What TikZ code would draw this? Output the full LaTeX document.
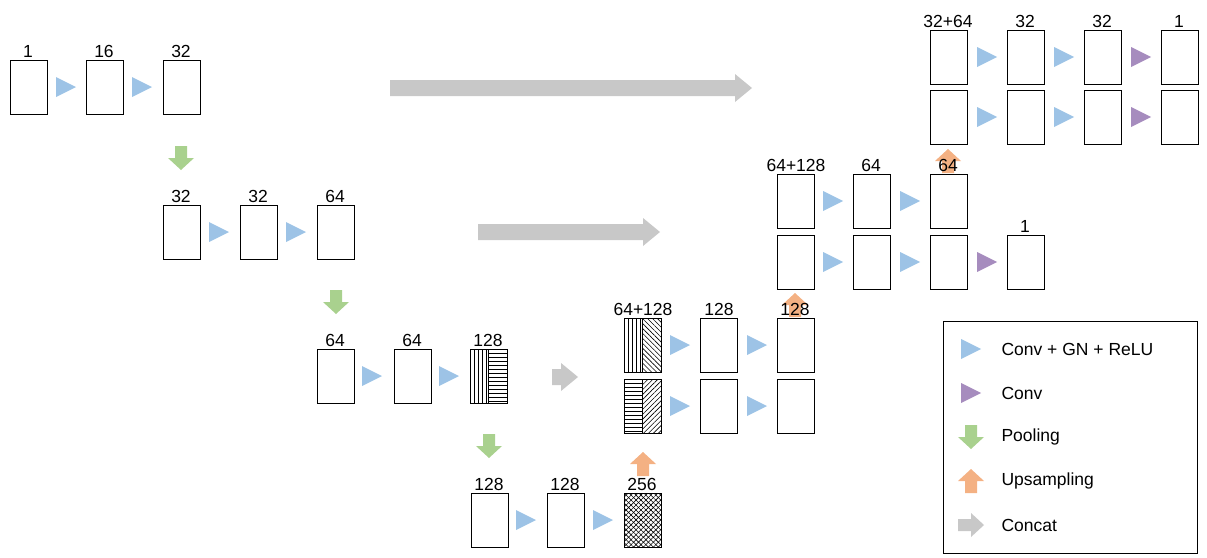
\documentclass[tikz,border=0pt]{standalone}
\usepackage{fontspec}
\setmainfont{Liberation Sans}
\usetikzlibrary{patterns.meta}
\definecolor{cb}{RGB}{157,195,230}
\definecolor{cp}{RGB}{166,140,190}
\definecolor{cg}{RGB}{169,209,142}
\definecolor{co}{RGB}{244,177,131}
\definecolor{cgr}{RGB}{200,200,200}
\begin{document}
\begin{tikzpicture}[x=1pt,y=-1pt,
  box/.style={draw,line width=0.7pt,minimum width=37pt,minimum height=54pt,inner sep=0,anchor=north west},
  lab/.style={font=\fontsize{17.5}{17.5}\selectfont,anchor=base},
  tri/.pic={\fill[#1] (-10,-10) -- (10,0) -- (-10,10) -- cycle;},
  pool/.pic={\fill[cg] (-6,-12) -- (6,-12) -- (6,0) -- (13,0) -- (0,12) -- (-13,0) -- (-6,0) -- cycle;},
  up/.pic={\fill[co] (-6,12) -- (6,12) -- (6,0) -- (13,0) -- (0,-12) -- (-13,0) -- (-6,0) -- cycle;},
  NW/.style={pattern={Lines[angle=-45,distance=3.5pt,line width=0.6pt]}},
  NE/.style={pattern={Lines[angle=45,distance=3.5pt,line width=0.6pt]}},
  lt/.style={font=\fontsize{17.5}{17.5}\selectfont,anchor=west}]
\useasboundingbox (0,0) rectangle (1207,557);
\newcommand\concatarrow[3]{\fill[cgr] (#1,#3-8) -- (#2-17,#3-8) -- (#2-17,#3-14) -- (#2,#3) -- (#2-17,#3+14) -- (#2-17,#3+8) -- (#1,#3+8) -- cycle;}
\newcommand\vlines[3]{\foreach \k in {4,8,12,16}{\draw[line width=0.6pt] (#1+\k,#2) -- (#1+\k,#3);}}
\newcommand\hlines[3]{\foreach \k in {4,8,...,52}{\draw[line width=0.6pt] (#1,#3+\k) -- (#2,#3+\k);}}
% arrows first
\pic at (181,158) {pool};
\pic at (336,302) {pool};
\pic at (489,446) {pool};
\pic at (643,464) {up};
\pic at (795,305) {up};
\pic at (948,161) {up};
\concatarrow{552}{578}{377}
\concatarrow{478}{660}{232}
\concatarrow{390}{752}{88}
% row 1
\node[box] (a1) at (10,60) {}; \node[box] (a2) at (86,60) {}; \node[box] (a3) at (163,60) {};
\node[lab] at (28,57) {1}; \node[lab] at (104,57) {16}; \node[lab] at (181,57) {32};
\pic at (66,87) {tri=cb}; \pic at (142,87) {tri=cb};
% row 2
\node[box] (b1) at (163,205) {}; \node[box] (b2) at (240,205) {}; \node[box] (b3) at (317,205) {};
\node[lab] at (181,202) {32}; \node[lab] at (258,202) {32}; \node[lab] at (335,202) {64};
\pic at (219,232) {tri=cb}; \pic at (296,232) {tri=cb};
% row 3
\node[box] (c1) at (317,349) {}; \node[box] (c2) at (394,349) {};
\node[box] (c3) at (470,349) {};
\vlines{470}{349}{403}
\hlines{488.5}{507}{349}
\draw[line width=0.7pt] (488.5,349) -- (488.5,403);
\draw[line width=0.7pt] (470,349) rectangle (507,403);
\node[lab] at (335,346) {64}; \node[lab] at (412,346) {64}; \node[lab] at (488,346) {128};
\pic at (372,376) {tri=cb}; \pic at (449,376) {tri=cb};
% row 4
\node[box] (d1) at (471,493) {}; \node[box] (d2) at (547,493) {}; \node[box] (d3) at (624,493) {};
\fill[NE] (624,493) rectangle (661,547);
\fill[NW] (624,493) rectangle (661,547);
\draw[line width=0.7pt] (624,493) rectangle (661,547);
\node[lab] at (489,490) {128}; \node[lab] at (565,490) {128}; \node[lab] at (642,490) {256};
\pic at (526,520) {tri=cb}; \pic at (603,520) {tri=cb};
% decoder level 3
\node[box] (e1) at (624,318) {}; \node[box] (e2) at (700,318) {}; \node[box] (e3) at (777,318) {};
\node[box] (f1) at (624,379) {}; \node[box] (f2) at (700,379) {}; \node[box] (f3) at (777,379) {};
\vlines{624}{318}{372}
\fill[NW] (642.5,318) rectangle (661,372);
\hlines{624}{642.5}{379}
\fill[NE] (642.5,379) rectangle (661,433);
\draw[line width=0.7pt] (642.5,318) -- (642.5,372) (642.5,379) -- (642.5,433);
\draw[line width=0.7pt] (624,318) rectangle (661,372) (624,379) rectangle (661,433);
\node[lab] at (643,315) {64+128}; \node[lab] at (719,315) {128}; \node[lab] at (795,315) {128};
\pic at (680,345) {tri=cb}; \pic at (757,345) {tri=cb};
\pic at (680,406) {tri=cb}; \pic at (757,406) {tri=cb};
% decoder level 2
\node[box] (g1) at (777,174) {}; \node[box] (g2) at (853,174) {}; \node[box] (g3) at (930,174) {};
\node[box] (h1) at (777,235) {}; \node[box] (h2) at (853,235) {}; \node[box] (h3) at (930,235) {};
\node[box] (h4) at (1007,235) {};
\node[lab] at (796,171) {64+128}; \node[lab] at (871,171) {64}; \node[lab] at (948,171) {64};
\node[lab] at (1025,232) {1};
\pic at (833,201) {tri=cb}; \pic at (910,201) {tri=cb};
\pic at (833,262) {tri=cb}; \pic at (910,262) {tri=cb}; \pic at (987,262) {tri=cp};
% decoder level 1
\node[box] (i1) at (930,30) {}; \node[box] (i2) at (1007,30) {}; \node[box] (i3) at (1084,30) {}; \node[box] (i4) at (1161,30) {};
\node[box] (j1) at (930,90) {}; \node[box] (j2) at (1007,90) {}; \node[box] (j3) at (1084,90) {}; \node[box] (j4) at (1161,90) {};
\node[lab] at (948,27) {32+64}; \node[lab] at (1025,27) {32}; \node[lab] at (1102,27) {32}; \node[lab] at (1179,27) {1};
\pic at (987,57) {tri=cb}; \pic at (1064,57) {tri=cb}; \pic at (1141,57) {tri=cp};
\pic at (987,117) {tri=cb}; \pic at (1064,117) {tri=cb}; \pic at (1141,117) {tri=cp};
% legend
\draw[line width=0.7pt] (943,321) rectangle (1197,553);
\pic at (971,349) {tri=cb}; \node[lt] (l1) at (998,349) {Conv + GN + ReLU};
\pic at (971,393) {tri=cp}; \node[lt] (l2) at (998,393) {Conv};
\pic at (971,437) {pool}; \node[lt] (l3) at (998,437) {Pooling};
\pic at (971,481) {up}; \node[lt] (l4) at (998,481) {Upsampling};
\fill[cgr] (958,519) -- (971,519) -- (971,513) -- (984,525) -- (971,537) -- (971,531) -- (958,531) -- cycle;
\node[lt] (l5) at (998,525) {Concat};
\end{tikzpicture}
\end{document}
